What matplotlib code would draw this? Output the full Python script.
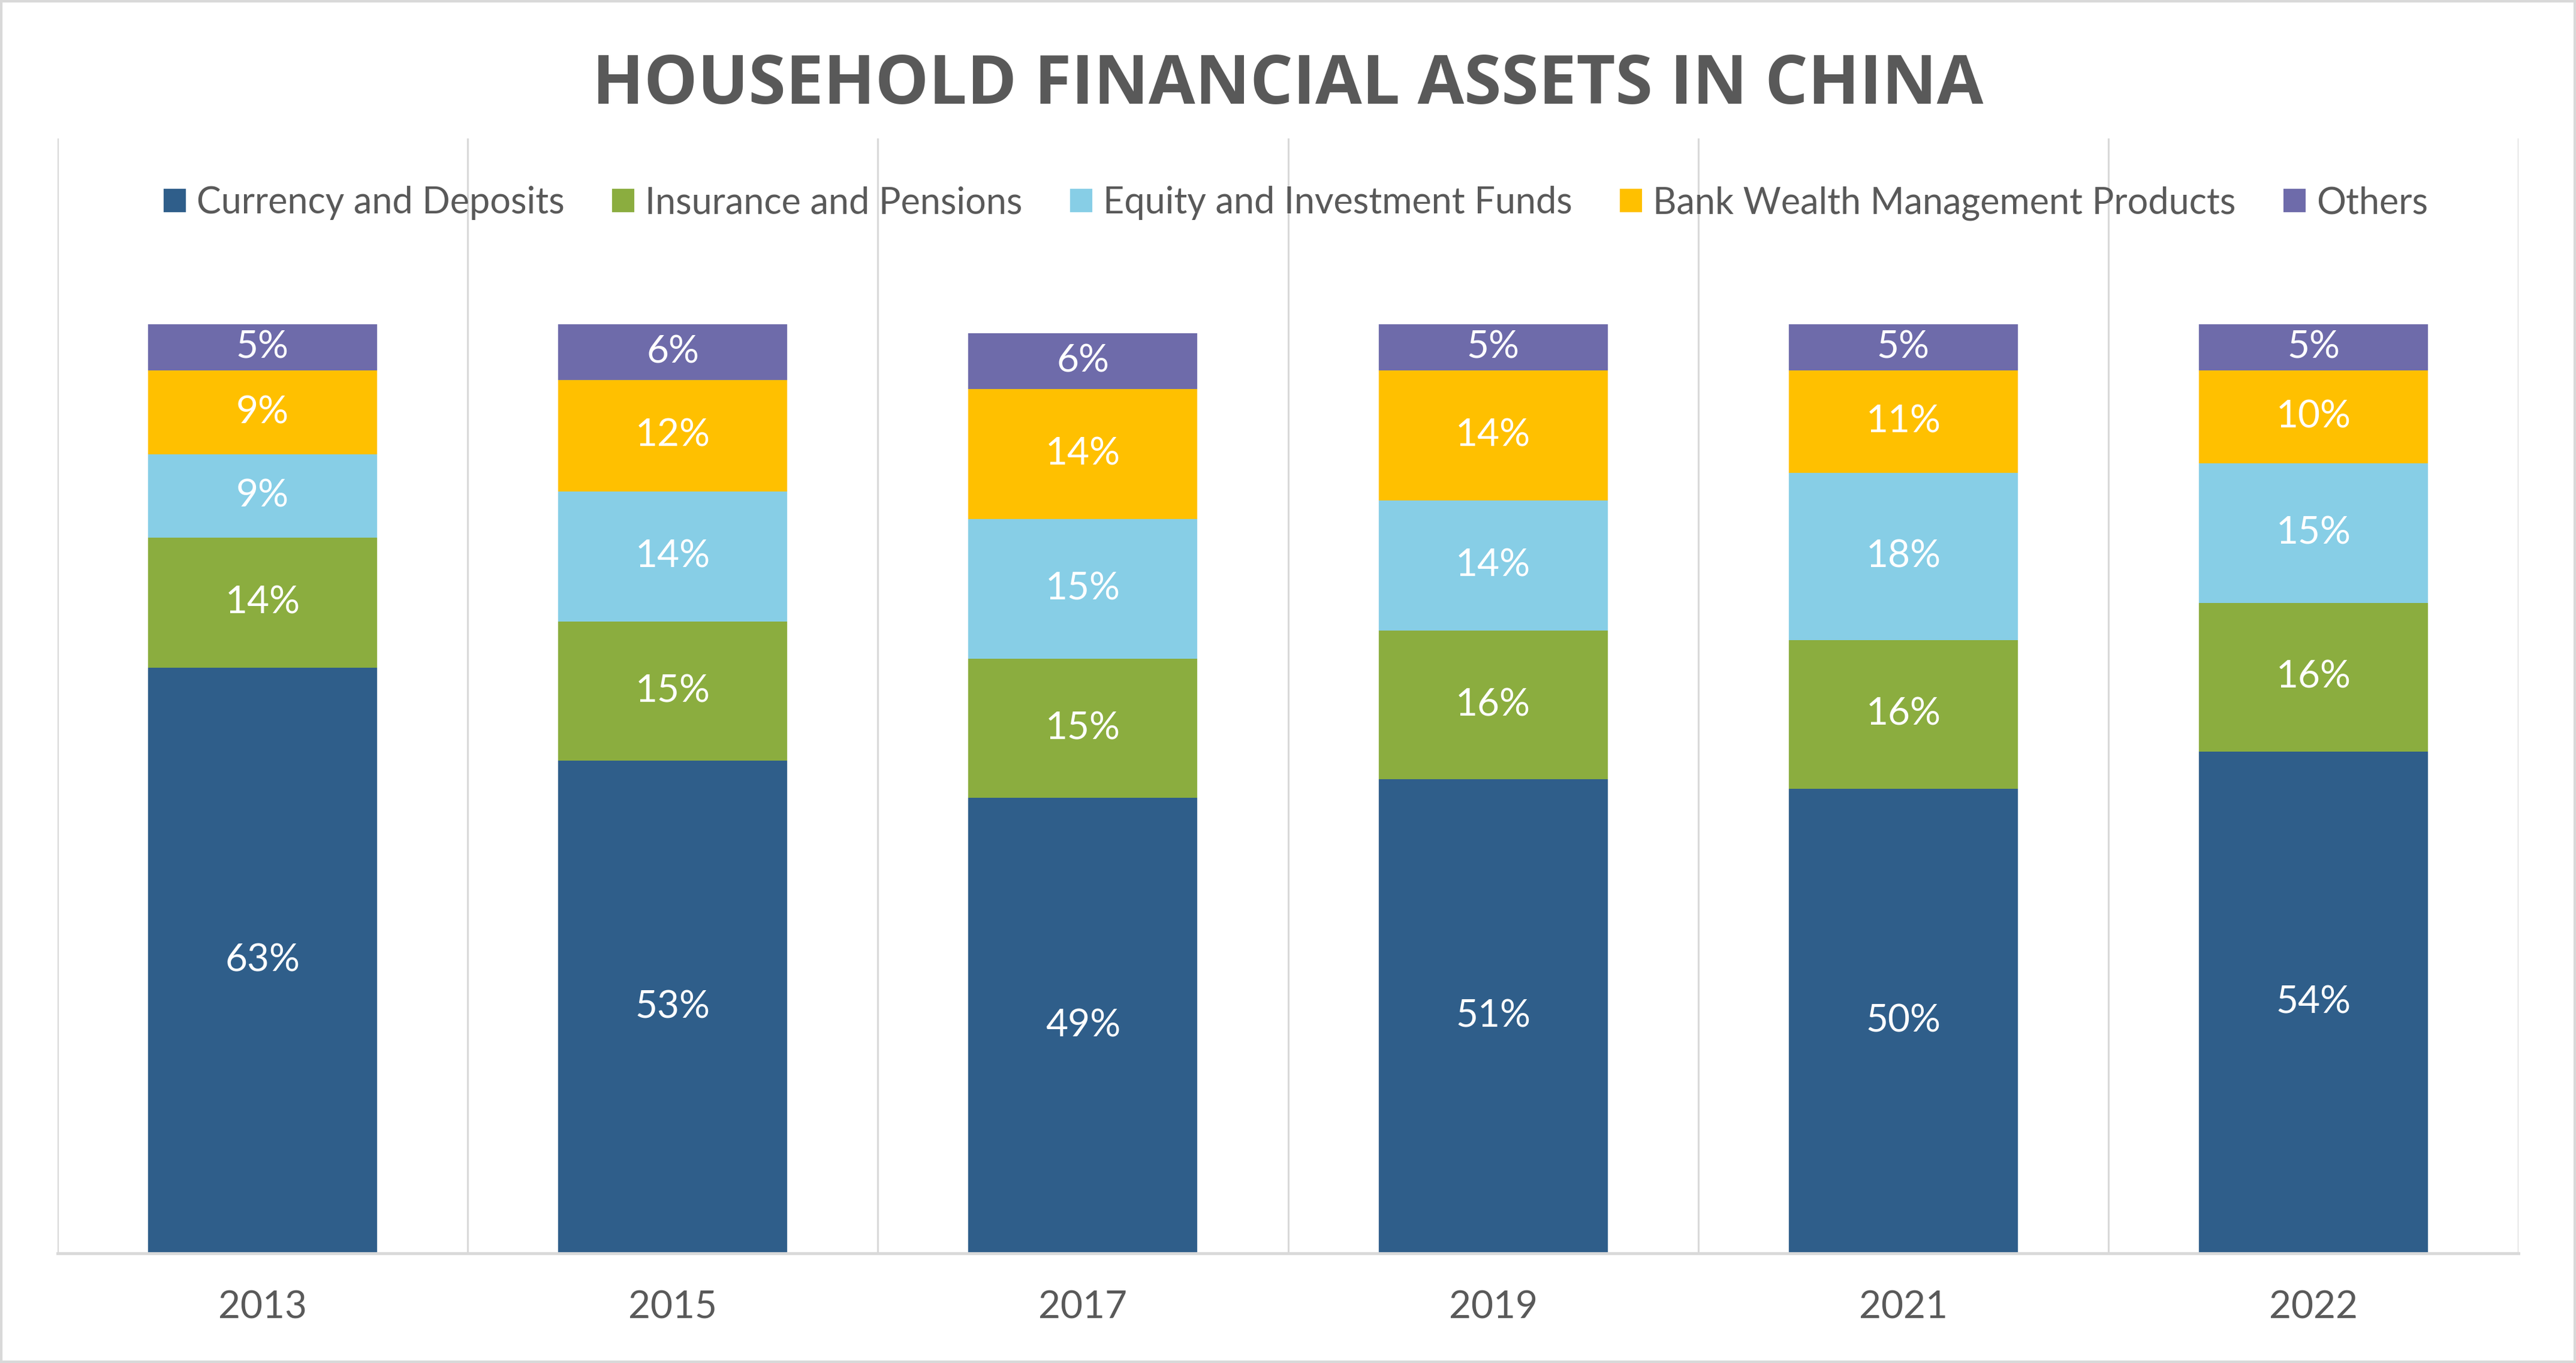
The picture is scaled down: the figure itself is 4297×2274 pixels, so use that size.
import matplotlib
matplotlib.use('Agg')
import matplotlib.pyplot as plt
from matplotlib.patches import Rectangle
import numpy as np

# data (percent of total household financial assets)
years = ['2013', '2015', '2017', '2019', '2021', '2022']
names = ['Currency and Deposits', 'Insurance and Pensions',
         'Equity and Investment Funds', 'Bank Wealth Management Products',
         'Others']
currency = [63, 53, 49, 51, 50, 54]
insurance = [14, 15, 15, 16, 16, 16]
equity = [9, 14, 15, 14, 18, 15]
bank = [9, 12, 14, 14, 11, 10]
others = [5, 6, 6, 5, 5, 5]

colors = ['#2F5E8A', '#8BAD3F', '#87CEE6', '#FFC000', '#6E6BAA']
grey = '#595959'
light = '#D9D9D9'

plt.rcParams['font.family'] = ['Lato', 'DejaVu Sans']

fig = plt.figure(figsize=(42.97, 22.74), dpi=100)
ax = fig.add_axes([0.0223, 0.0805, 0.9554, 0.818])

x = np.arange(len(years))
bottom = np.zeros(len(years))
for name, vals, c in zip(names, [currency, insurance, equity, bank, others], colors):
    v = np.array(vals) / 100
    bars = ax.bar(x, v, 0.558, bottom=bottom, color=c, label=name, zorder=3)
    ax.bar_label(bars, labels=['{}%'.format(val) for val in vals],
                 label_type='center', color='white', fontsize=46)
    bottom += v

ax.set_xlim(-0.5, len(years) - 0.5)
ax.set_ylim(0, 1.2)
ax.set_yticks([])
ax.set_xticks(x, years)
ax.tick_params(axis='x', length=0, pad=44, labelsize=46, labelcolor=grey)

# vertical separators between categories
for b in np.arange(-0.5, len(years)):
    ax.axvline(b, color=light, lw=2.2, zorder=1)

for side in ['top', 'right', 'left']:
    ax.spines[side].set_visible(False)
ax.spines['bottom'].set_color(light)
ax.spines['bottom'].set_linewidth(3.5)
ax.spines['bottom'].set_zorder(4)

fig.legend(loc='center', bbox_to_anchor=(0.503, 0.851), ncol=5,
           frameon=False, fontsize=44, handlelength=0.6, handleheight=0.6,
           handletextpad=0.3, columnspacing=1.3, labelcolor=grey)

fig.text(0.5, 0.937, 'HOUSEHOLD FINANCIAL ASSETS IN CHINA', ha='center',
         va='center', fontsize=81, fontweight='bold', color=grey,
         family=['Open Sans', 'DejaVu Sans'])

# light border around the whole chart
fig.patches.append(Rectangle((0, 0), 1, 1, transform=fig.transFigure,
                             fill=False, edgecolor=light, lw=6))

fig.savefig('out.png', dpi=100)
